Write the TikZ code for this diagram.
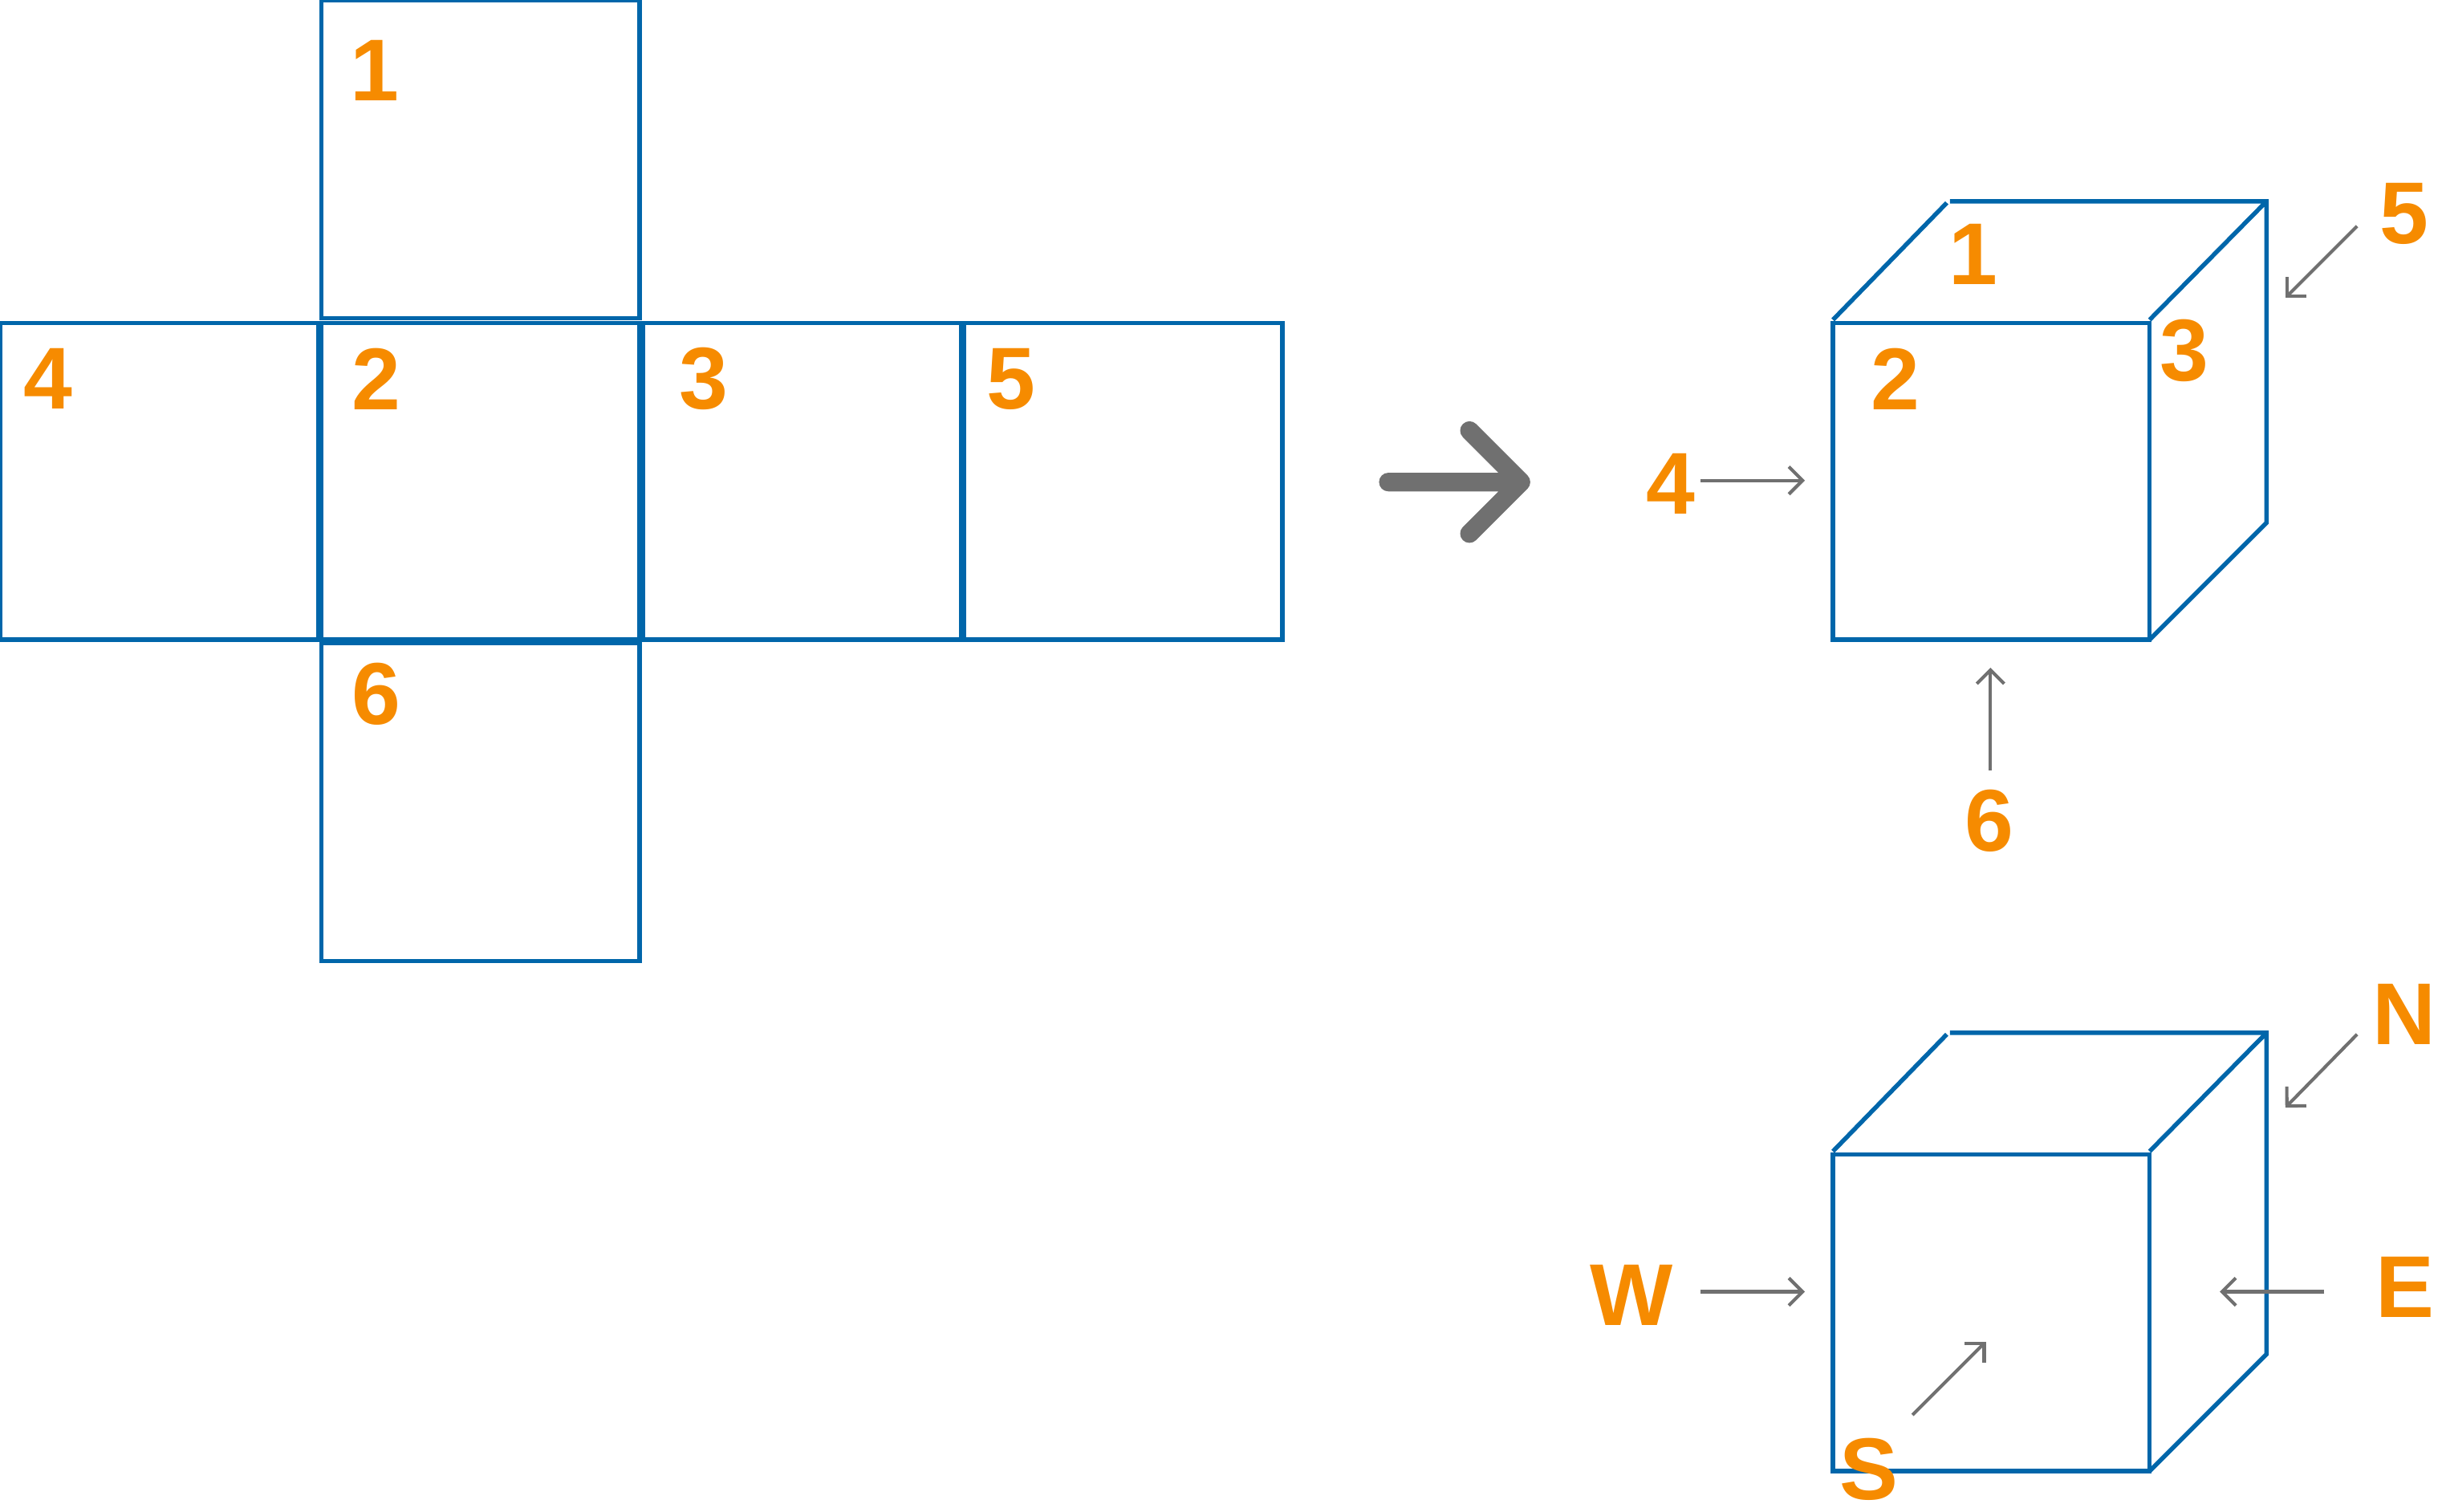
\documentclass[tikz,border=0pt]{standalone}
\usepackage{fontspec}
\setmainfont{Liberation Sans}
\usetikzlibrary{arrows.meta}
\definecolor{netblue}{HTML}{0066AA}
\definecolor{numorange}{HTML}{F68B00}
\definecolor{arrgray}{HTML}{707070}
\tikzset{
  face/.style={draw=netblue,line width=0.8pt},
  num/.style={text=numorange,font=\fontsize{16}{16}\selectfont\bfseries,inner sep=0pt},
  pointer/.style={draw=arrgray,line width=0.6pt,-{Straight Barb[length=2.5pt,width=5pt]}},
}
\begin{document}
\begin{tikzpicture}[x=0.01cm,y=-0.01cm]
\useasboundingbox (0,0) rectangle (1568,969);

% the unfolded net
\draw[face] (206,0) rectangle (410,204);
\foreach \xa in {0,206,412,618}
  \draw[face] (\xa,207) rectangle ++(204,203);
\draw[face] (206,412) rectangle (410,616);
\node[num] (n1) at (240,45) {1};
\node[num] (n4) at (31,243) {4};
\node[num] (n2) at (241,243) {2};
\node[num] (n3) at (451,243) {3};
\node[num] (n5) at (648,243) {5};
\node[num] (n6) at (241,445) {6};

% folding arrow
\draw[arrgray,line width=3.4pt,line cap=round,line join=round]
  (890,309) -- (975,309) (942,276) -- (975,309) -- (942,342);

% folded cube
\draw[face] (1175,207) rectangle (1378,410);
\draw[face] (1175,205) -- (1248,130) (1250,129) -- (1453,129) -- (1453,335) -- (1378,410)
  (1378,205) -- (1453,129);
\node[num] (c1) at (1265,163) {1};
\node[num] (c2) at (1215,243) {2};
\node[num] (c3) at (1400,225) {3};
\node[num] (c5) at (1541,137) {5};
\node[num] (c4) at (1071,310) {4};
\node[num] (c6) at (1275,526) {6};
\coordinate (s4) at (1090,308);
\coordinate (t4) at (1157,308);
\coordinate (t6) at (1276,428);
\coordinate (t5) at (1465,191);
\draw[pointer] (s4) -- (t4);
\draw[pointer] (1276,494) -- (t6);
\draw[pointer] (1511,145) -- (t5);

% compass cube
\draw[face] (1175,740) rectangle (1378,943);
\draw[face] (1175,738) -- (1248,663) (1250,662) -- (1453,662) -- (1453,868) -- (1378,943)
  (1378,738) -- (1453,662);
\node[num] (cN) at (1541,650) {N};
\node[num] (cW) at (1046,830) {W};
\node[num] (cE) at (1542,825) {E};
\node[num] (cS) at (1198,942) {S};
\coordinate (tN) at (1465,710);
\coordinate (tW) at (1157,828);
\coordinate (tE) at (1423,828);
\coordinate (tS) at (1273,860);
\draw[pointer] (1511,663) -- (tN);
\draw[pointer] (1090,828) -- (tW);
\draw[pointer] (1490,828) -- (tE);
\draw[pointer] (1226,907) -- (tS);
\end{tikzpicture}
\end{document}
